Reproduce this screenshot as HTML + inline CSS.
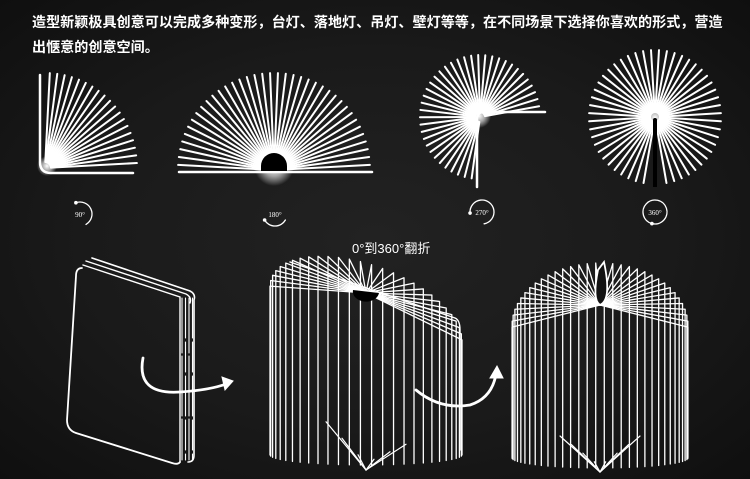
<!DOCTYPE html>
<html><head><meta charset="utf-8">
<style>
html,body{margin:0;padding:0;width:750px;height:479px;overflow:hidden;background:#141414;}
#bg{position:absolute;left:0;top:0;width:750px;height:479px;background:radial-gradient(ellipse at 50% 50%,#222 0%,#1a1a1a 55%,#0f0f0f 100%);}
.t{position:absolute;color:#fff;font-family:"Liberation Sans","Noto Sans CJK SC",sans-serif;font-size:14.1px;font-weight:bold;white-space:nowrap;}
svg{position:absolute;left:0;top:0;}
</style></head><body>
<div id="bg"></div>
<div class="t" style="left:32px;top:12px;">造型新颖极具创意可以完成多种变形，台灯、落地灯、吊灯、壁灯等等，在不同场景下选择你喜欢的形式，营造</div>
<div class="t" style="left:32px;top:37px;">出惬意的创意空间。</div>
<div class="t" style="left:352px;top:238px;font-size:13px;font-weight:normal;">0°到360°翻折</div>
<svg id="s" width="750" height="479" viewBox="0 0 750 479">
<defs>
<radialGradient id="glow"><stop offset="0" stop-color="#fff" stop-opacity="1"/><stop offset="0.5" stop-color="#fff" stop-opacity="0.6"/><stop offset="1" stop-color="#fff" stop-opacity="0"/></radialGradient>
</defs>
<g id="g" fill="none" stroke="#fff" stroke-linecap="round"></g>
</svg>
<script>
var g=document.getElementById('g');var NS='http://www.w3.org/2000/svg';
function el(t,a){var e=document.createElementNS(NS,t);for(var k in a)e.setAttribute(k,a[k]);g.appendChild(e);return e;}
function ray(cx,cy,a0,a1,n,r0,rx,ry,w){for(var i=0;i<n;i++){var a=(a0+(a1-a0)*i/(n-1))*Math.PI/180;var c=Math.cos(a),s=-Math.sin(a);el('line',{x1:cx+r0*c,y1:cy+r0*s,x2:cx+rx*c,y2:cy+ry*s,'stroke-width':w||2});}}
// fan1
el('circle',{cx:47,cy:166,r:10,fill:'url(#glow)',stroke:'none'});
ray(45,168,3,87,19,6,92,95,2);
el('path',{d:'M40 75 L40 162 Q40 173 51 173 L133 173','stroke-width':2.5});
// fan2
el('circle',{cx:274,cy:166,r:20,fill:'url(#glow)',stroke:'none'});
ray(274,170,3,177,38,10,96,97,2);
el('line',{x1:179,y1:172,x2:372,y2:172,'stroke-width':2.5});
el('path',{d:'M261 171 L261 166 A13 13 0 0 1 287 166 L287 171Z',fill:'#000',stroke:'none'});
// fan3
el('circle',{cx:479,cy:116,r:12,fill:'url(#glow)',stroke:'none'});
ray(480,117,10,262,38,5,60,62,2);
el('path',{d:'M477 187 L477 119 Q477 112 484 112 L545 112','stroke-width':2.5});
// fan4
el('circle',{cx:655,cy:118,r:14,fill:'url(#glow)',stroke:'none'});
ray(655,117,-80,260,50,5,66,67,2);
el('path',{d:'M653 187 L653 120 A2 2 0 0 1 657 120 L657 187Z',fill:'#000',stroke:'none'});
// rotation icons
function icon(cx,cy,a0,a1,lbl){var p0=[cx+12*Math.cos(a0*Math.PI/180),cy-12*Math.sin(a0*Math.PI/180)],p1=[cx+12*Math.cos(a1*Math.PI/180),cy-12*Math.sin(a1*Math.PI/180)];
var span=Math.abs(a1-a0);el('path',{d:'M'+p0+' A12 12 0 '+(span>180?1:0)+' '+(a1>a0?0:1)+' '+p1,'stroke-width':1.3});
el('circle',{cx:p1[0],cy:p1[1],r:1.8,fill:'#fff',stroke:'none'});
var t=el('text',{x:cx,y:cy+3,'text-anchor':'middle','font-family':'Liberation Serif,serif','font-size':7,fill:'#fff',stroke:'none'});t.textContent=lbl;}
icon(80,214,-60,110,'90°');icon(275,214,-30,-150,'180°');
icon(482,212,-80,185,'270°');icon(655,212,-100,255,'360°');
// book1
el('path',{d:'M92 258 L190 291 Q196 294 194 300 L194 455 Q194 462 188 462','stroke-width':1.6});
el('path',{d:'M86 261 L186 294 Q192 297 190 303','stroke-width':1.4});
el('path',{d:'M83 265 L180 297 L180 462','stroke-width':1.4});
el('path',{d:'M82 268 Q76 268 76 276 L67 420 Q67 430 76 433 L172 463 Q178 465 180 462','stroke-width':1.8});
for(var i=0;i<4;i++){var x=182+i*3.5;el('line',{x1:x,y1:298,x2:x,y2:460,'stroke-width':1.1,'stroke-dasharray':(i%2?'40 4 30 4':'55 3 60 3')});}
// books
function book(hx,hy,W,ry,yb,bx,by,p0,p1,n,slant,vn){
 for(var i=0;i<n;i++){var p=(p0+(p1-p0)*i/(n-1))*Math.PI/180;var x=hx+W*Math.sin(p);var c=Math.cos(p);
  var yt=hy-ry*c+(x-hx)*slant+ (1-c)*20;var ybb=yb+10*c;
  el('path',{d:'M'+hx+' '+hy+' L'+x+' '+yt+' L'+x+' '+ybb,'stroke-width':1.3,'stroke-linejoin':'round'});}
 for(var j=0;j<vn;j++){var f=(j-(vn-1)/2)/((vn-1)/2);el('line',{x1:bx,y1:by,x2:bx+f*40,y2:yb+8-Math.abs(f)*30+ (f*40)*slant,'stroke-width':1.2});}
}
book(366,293,96,30,455,366,470,-90,90,28,0.28,6);
el('path',{d:'M353 290 A13 10 0 0 0 379 293Z',fill:'#000',stroke:'none'});
el('path',{d:'M290 262 L455 318 Q460 320 460 330 L460 450','stroke-width':1.4});
book(600,305,88,42,458,600,472,-92,92,34,0,8);
el('path',{d:'M600 305 Q592 300 598 270 L604 262 Q612 300 600 305','stroke-width':1.8,fill:'#111'});
// arrows
el('path',{d:'M143 358 Q136 395 180 392 Q210 390 226 384','stroke-width':2.8});
el('path',{d:'M233 381 L222 377 L225 390Z',fill:'#fff',stroke:'#fff','stroke-width':1});
el('path',{d:'M416 390 Q440 410 470 405 Q492 398 496 374','stroke-width':2.8});
el('path',{d:'M497 366 L490 378 L503 378Z',fill:'#fff',stroke:'#fff','stroke-width':1});
</script>
</body></html>
